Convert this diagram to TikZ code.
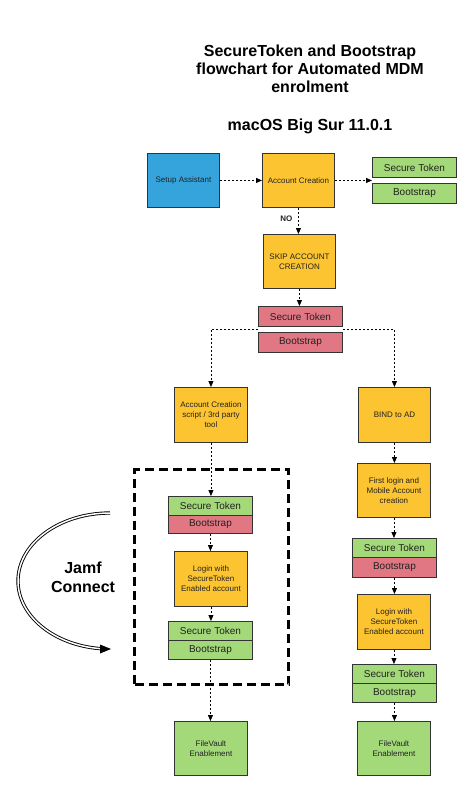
\documentclass[tikz,border=0pt]{standalone}
\usepackage{fontspec}
\setmainfont{Liberation Sans}
\usetikzlibrary{arrows.meta,calc}
\definecolor{cblue}{HTML}{36A4DC}
\definecolor{cyellow}{HTML}{FDC431}
\definecolor{cgreen}{HTML}{A4D97A}
\definecolor{cred}{HTML}{E07783}
\definecolor{bord}{HTML}{333333}
\definecolor{txt}{HTML}{222222}
\begin{document}
\begin{tikzpicture}[x=1pt,y=-1pt,
  bx/.style={draw=bord, line width=0.9pt, align=center, inner sep=1pt, anchor=north west,
             font=\fontsize{8}{10}\selectfont, text=txt, minimum width=73pt, minimum height=55pt},
  tk/.style={bx, font=\fontsize{10}{12}\selectfont, minimum width=84pt, minimum height=19pt},
  yel/.style={bx, fill=cyellow},
  grn/.style={fill=cgreen},
  rd/.style={fill=cred},
  conn/.style={line width=0.8pt, dash pattern=on 2pt off 2pt, -{Triangle[length=6pt,width=5pt]}},
]
\useasboundingbox (0,0) rectangle (474,793);

% titles
\node[font=\bfseries\fontsize{16}{18}\selectfont, align=center] (title) at (310,69)
  {SecureToken and Bootstrap\\flowchart for Automated MDM\\enrolment};
\node[font=\bfseries\fontsize{16}{18}\selectfont] (sub) at (310,126) {macOS Big Sur 11.0.1};

% top row
\node[bx, fill=cblue, minimum width=72pt, minimum height=54pt] (sa) at (147,153) {Setup Assistant};
\node[yel, minimum width=72pt, minimum height=54pt] (ac) at (262,153) {Account Creation};
\node[tk, grn, minimum height=20pt] (st1) at (372,157) {Secure Token};
\node[tk, grn, minimum height=20pt] (bs1) at (372,183) {Bootstrap};

\node[yel, minimum width=72pt, minimum height=54pt] (skip) at (263,234) {SKIP ACCOUNT\\CREATION};
\node[tk, rd, minimum height=20pt] (st2) at (258,306) {Secure Token};
\node[tk, rd, minimum height=20pt] (bs2) at (258,332) {Bootstrap};

\node[yel] (scr) at (174,387) {Account Creation\\script / 3rd party\\tool};
\node[yel, minimum width=72pt] (bind) at (358,387) {BIND to AD};

% Jamf Connect frame
\node[draw=black, line width=3pt, dash pattern=on 9pt off 5pt, anchor=north west,
      minimum width=154pt, minimum height=215pt, inner sep=0pt] (frame) at (133,468) {};

% left column
\node[tk, grn] (st3) at (168,496) {Secure Token};
\node[tk, rd, minimum height=18pt] (bs3) at (168,515) {Bootstrap};
\node[yel] (lg1) at (174,551) {Login with\\SecureToken\\Enabled account};
\node[tk, grn] (st4) at (168,621) {Secure Token};
\node[tk, grn] (bs4) at (168,640) {Bootstrap};
\node[bx, grn, minimum height=54pt] (fv1) at (174,721) {FileVault\\Enablement};

% right column
\node[yel, minimum height=54pt] (fl) at (357,463) {First login and\\Mobile Account\\creation};
\node[tk, grn] (st5) at (352,538) {Secure Token};
\node[tk, rd, minimum height=20pt] (bs5) at (352,557) {Bootstrap};
\node[yel] (lg2) at (357,594) {Login with\\SecureToken\\Enabled account};
\node[tk, grn] (st6) at (352,664) {Secure Token};
\node[tk, grn] (bs6) at (352,683) {Bootstrap};
\node[bx, grn, minimum height=54pt] (fv2) at (357,721) {FileVault\\Enablement};

% connectors
\draw[conn] (sa) -- (ac);
\draw[conn] (ac.east) -- (ac.east -| st1.west);
\draw[conn] (ac.south) -- (ac.south |- skip.north);
\node[font=\bfseries\fontsize{8}{10}\selectfont, anchor=east, text=txt] (no) at (296,219) {NO};
\draw[conn] (skip.south) -- (skip.south |- st2.north);
\coordinate (sl) at ($(st2.south west)!0.5!(bs2.north west)$);
\coordinate (sr) at ($(st2.south east)!0.5!(bs2.north east)$);
\draw[conn] (sl) -| (scr.north);
\draw[conn] (sr) -| (bind.north);

\draw[conn] (scr.south) -- (scr.south |- st3.north);
\draw[conn] (bs3.south) -- (bs3.south |- lg1.north);
\draw[conn] (lg1.south) -- (lg1.south |- st4.north);
\draw[conn] (bs4.south) -- (bs4.south |- fv1.north);

\draw[conn] (bind.south) -- (bind.south |- fl.north);
\draw[conn] (fl.south) -- (fl.south |- st5.north);
\draw[conn] (bs5.south) -- (bs5.south |- lg2.north);
\draw[conn] (lg2.south) -- (lg2.south |- st6.north);
\draw[conn] (bs6.south) -- (bs6.south |- fv2.north);

% Jamf Connect arc
\node[font=\bfseries\fontsize{16}{19}\selectfont, align=center] (jamf) at (83,577) {Jamf\\Connect};
\coordinate (js) at (110,513);
\draw[line width=0.9pt, double=white, double distance=1.5pt]
  (js) arc[start angle=-90, end angle=-264, x radius=92, y radius=68] coordinate (je);
\fill (100,644.5) -- (111,649) -- (100,653.5) -- cycle;
\end{tikzpicture}
\end{document}
